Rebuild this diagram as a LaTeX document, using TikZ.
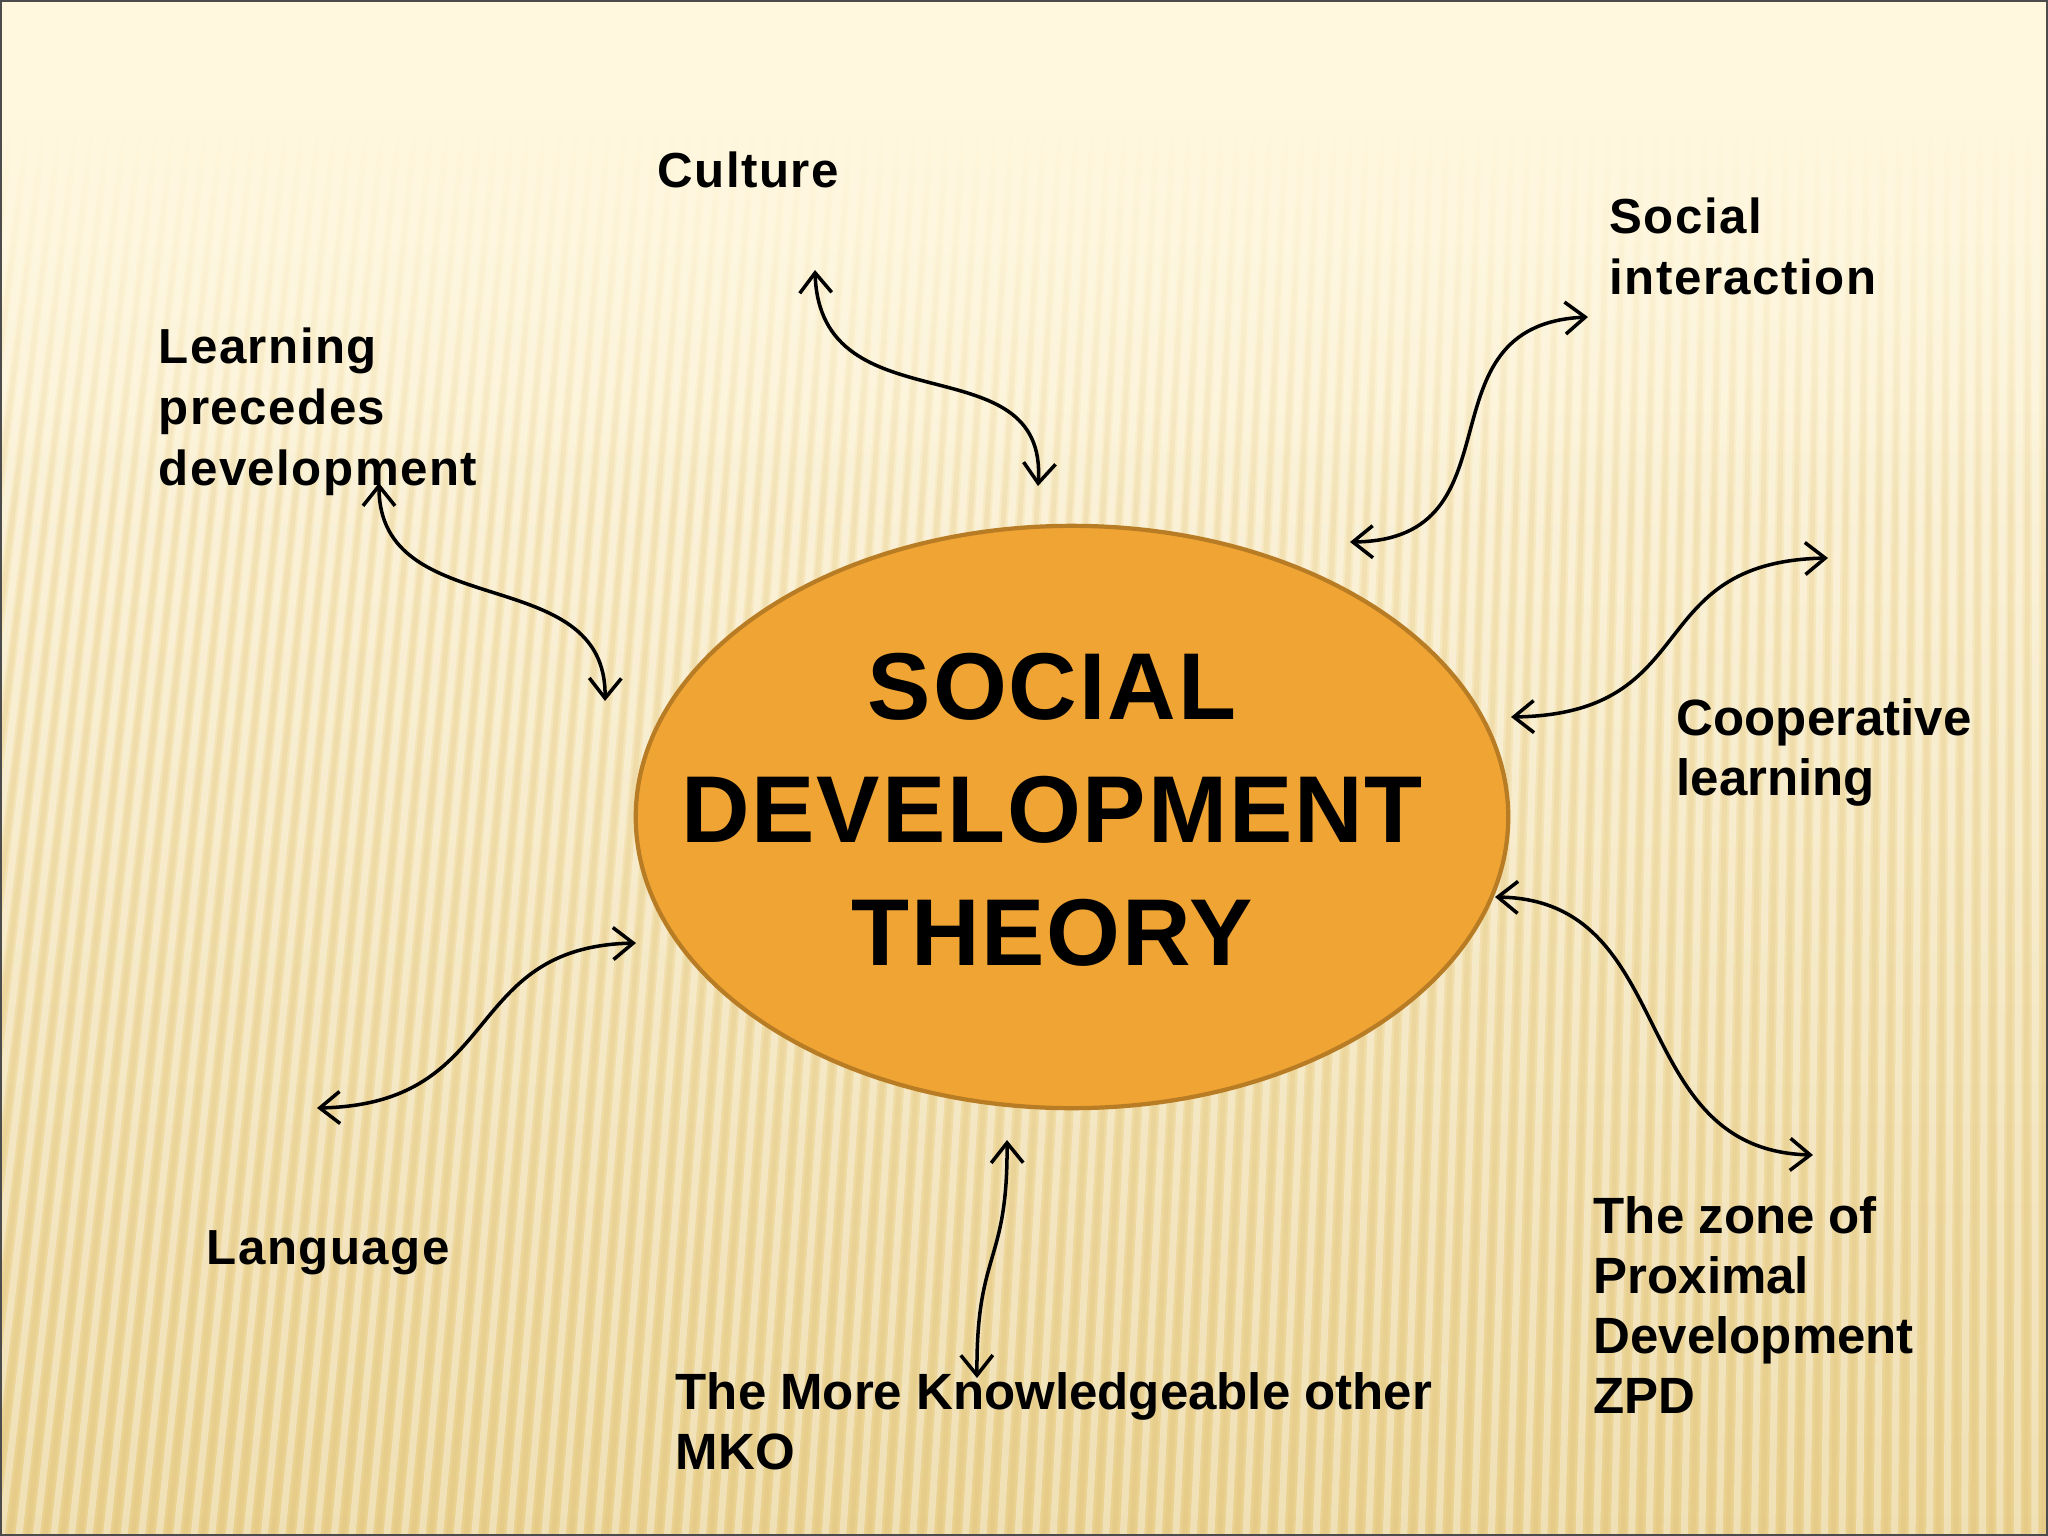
\documentclass[tikz,border=0pt]{standalone}
\usepackage{fontspec}
\setmainfont{Liberation Sans}
\newfontfamily\spacedfont[LetterSpace=3]{Liberation Sans}
\newfontfamily\titlefont[LetterSpace=2]{Liberation Sans}
\usepackage{xcolor}
\usepackage{tikz}
\usetikzlibrary{shapes.geometric, arrows.meta, fadings}

\definecolor{sdtorange}{RGB}{240,164,52}
\definecolor{sdtrim}{RGB}{184,124,36}
\definecolor{paperTop}{RGB}{255,247,222}
\definecolor{paperMid}{RGB}{252,237,190}
\definecolor{paperBot}{RGB}{233,208,142}
\definecolor{paperShade}{RGB}{214,180,100}

\begin{document}
\begin{tikzpicture}[x=0.01cm, y=-0.01cm,
hub/.style = {ellipse, draw=sdtrim, line width=1.2pt, fill=sdtorange, minimum width=8.72cm, minimum height=5.82cm, inner sep=0pt},
hub label/.style = {font=\titlefont\bfseries\fontsize{27}{35}\selectfont, align=center, inner sep=0pt},
spaced label/.style = {font=\spacedfont\bfseries\fontsize{14}{17.3}\selectfont, align=left, anchor=base west, inner sep=0pt},
bold label/.style = {font=\bfseries\fontsize{14.5}{17}\selectfont, align=left, anchor=base west, inner sep=0pt},
link/.style = {<->, >={Straight Barb[length=2mm, width=3.2mm]}, line width=1pt},
stripe/.style = {white, opacity=0.35, line width=0.07cm},
stripe shade/.style = {paperShade, opacity=0.15, line width=0.05cm}
]

\useasboundingbox (0,0) rectangle (2048,1536);

\fill[top color=paperTop, middle color=paperMid, bottom color=paperBot] (0,0) rectangle (2048,1536);
\foreach \x in {-300,-284,...,2300} {
  \draw[stripe] (\x,0) -- ({\x-196+0.0957*\x},1536);
  \draw[stripe shade] (\x+8,0) -- ({\x+8-196+0.0957*(\x+8)},1536);
}
\fill[paperTop] (0,0) rectangle (2048,120);
\fill[paperTop, path fading=south] (0,119) rectangle (2048,520);
\draw[gray!60!black, line width=0.6pt] (1,1) rectangle (2047,1535);

\node (sdt) at (1072,817) [hub] {};
\node (title) at (1052,810) [hub label] {SOCIAL\\DEVELOPMENT\\THEORY};

\node (culture)  at (657,187)  [spaced label] {Culture};
\node (social)   at (1609,294) [spaced label] {Social\\interaction};
\node (learning) at (158,485)  [spaced label] {Learning\\precedes\\development};
\node (language) at (206,1264) [spaced label] {Language};

\node (coop) at (1676,795) [bold label] {Cooperative\\learning};
\node (zpd)  at (1593,1413) [bold label] {The zone of\\Proximal\\Development\\ZPD};
\node (mko)  at (675,1469) [bold label] {The More Knowledgeable other\\MKO};

\coordinate (cul-a) at (815,270);
\coordinate (cul-b) at (1038,486);
\coordinate (soc-a) at (1588,317);
\coordinate (soc-b) at (1350,542);
\coordinate (coo-a) at (1828,558);
\coordinate (coo-b) at (1511,717);
\coordinate (zpd-a) at (1495,897);
\coordinate (zpd-b) at (1813,1155);
\coordinate (mko-a) at (1007,1140);
\coordinate (mko-b) at (977,1378);
\coordinate (lan-a) at (636,943);
\coordinate (lan-b) at (317,1108);
\coordinate (lea-a) at (379,483);
\coordinate (lea-b) at (605,701);

\draw[link] (cul-a) .. controls (820,430) and (1048,340) .. (cul-b);
\draw[link] (soc-a) .. controls (1415,325) and (1525,540) .. (soc-b);
\draw[link] (coo-a) .. controls (1640,562) and (1705,714) .. (coo-b);
\draw[link] (zpd-a) .. controls (1680,900) and (1625,1150) .. (zpd-b);
\draw[link] (mko-a) .. controls (1008,1265) and (976,1250) .. (mko-b);
\draw[link] (lan-a) .. controls (460,947) and (505,1104) .. (lan-b);
\draw[link] (lea-a) .. controls (379,625) and (607,560) .. (lea-b);
\end{tikzpicture}
\end{document}
